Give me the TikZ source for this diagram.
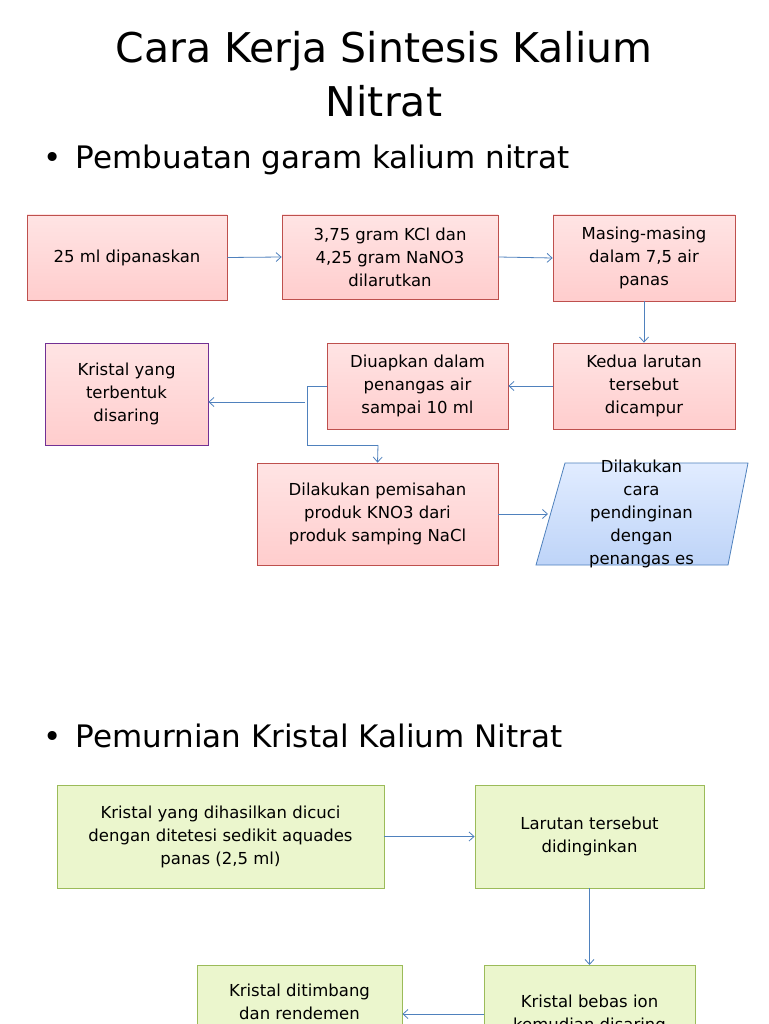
\documentclass[tikz,border=0pt]{standalone}
\usepackage{fontspec}
\setmainfont{DejaVu Sans}
\usetikzlibrary{arrows.meta}
\definecolor{redfill}{RGB}{255,205,205}
\definecolor{redtop}{RGB}{255,228,228}
\definecolor{reddraw}{RGB}{190,80,77}
\definecolor{greenfill}{RGB}{235,246,205}
\definecolor{greendraw}{RGB}{155,187,89}
\definecolor{bluefill}{RGB}{190,212,248}
\definecolor{bluetop}{RGB}{225,236,255}
\definecolor{bluedraw}{RGB}{79,129,189}
\definecolor{arr}{RGB}{79,129,189}
\tikzset{
 boxfont/.style={font=\fontsize{16.5}{23}\selectfont},
 redbox/.style={draw=reddraw,top color=redtop,bottom color=redfill,align=center,boxfont,inner sep=0pt,line width=0.8pt},
 greenbox/.style={draw=greendraw,fill=greenfill,align=center,boxfont,inner sep=0pt,line width=0.8pt},
 conn/.style={draw=arr,line width=0.8pt,-{Straight Barb[length=5pt,width=9pt]}},
 plain/.style={draw=arr,line width=0.8pt}
}
\begin{document}
\begin{tikzpicture}[x=1pt,y=-1pt]
\useasboundingbox[fill=white] (0,0) rectangle (768,1024);
\clip (0,0) rectangle (768,1024);
\node[font=\fontsize{41}{54}\selectfont,align=center] (title) at (384,74) {Cara Kerja Sintesis Kalium\\Nitrat};
\node[font=\fontsize{31}{38}\selectfont,anchor=west] (b1) at (40,160) {•\hspace{14pt}Pembuatan garam kalium nitrat};
\node[font=\fontsize{31}{38}\selectfont,anchor=west] (b2) at (40,736) {•\hspace{14pt}Pemurnian Kristal Kalium Nitrat};
\node[redbox,minimum width=200,minimum height=85] (A) at (127,257.5) {25 ml dipanaskan};
\node[redbox,minimum width=216,minimum height=84] (B) at (390,257) {3,75 gram KCl dan\\4,25 gram NaNO3\\dilarutkan};
\node[redbox,minimum width=182,minimum height=86] (C) at (644,258) {Masing-masing\\dalam 7,5 air\\panas};
\node[redbox,minimum width=182,minimum height=86] (D) at (644,386) {Kedua larutan\\tersebut\\dicampur};
\node[redbox,minimum width=181,minimum height=86] (E) at (417.5,386) {Diuapkan dalam\\penangas air\\sampai 10 ml};
\node[redbox,minimum width=163,minimum height=102,draw=reddraw!60!blue] (F) at (126.5,394) {Kristal yang\\terbentuk\\disaring};
\node[redbox,minimum width=241,minimum height=102] (G) at (377.5,514) {Dilakukan pemisahan\\produk KNO3 dari\\produk samping NaCl};
\path[draw=bluedraw,top color=bluetop,bottom color=bluefill,line width=0.8pt] (536,565) -- (565,463) -- (748,463) -- (728,565) -- cycle;
\node[align=center,boxfont] (H) at (641.5,514) {Dilakukan\\cara\\pendinginan\\dengan\\penangas es};
\coordinate (hw) at (548,514);
\node[greenbox,minimum width=327,minimum height=103] (I) at (220.5,836.5) {Kristal yang dihasilkan dicuci\\dengan ditetesi sedikit aquades\\panas (2,5 ml)};
\node[greenbox,minimum width=229,minimum height=103] (J) at (589.5,836.5) {Larutan tersebut\\didinginkan};
\node[greenbox,minimum width=211,minimum height=120,anchor=north] (K) at (589.5,965) {};
\node[align=center,boxfont,anchor=north] (Kt) at (589.5,991) {Kristal bebas ion\\kemudian disaring};
\node[greenbox,minimum width=205,minimum height=100,anchor=north] (L) at (299.5,965) {Kristal ditimbang\\dan rendemen\\dihitung};
\path[conn] (A.east) -- (B.west);
\path[conn] (B.east) -- (C.west);
\path[conn] (C.south) -- (D.north);
\path[conn] (D.west) -- (E.east);
\coordinate (e1) at (307,386);
\coordinate (e2) at (307,445);
\coordinate (e3) at (378,445);
\coordinate (f1) at (305,402);
\path[plain] (E.west) -- (e1) -- (e2) -- (e3);
\path[conn] (e3) -- (G.north);
\path[conn] (f1) -- (F.east|-f1);
\path[conn] (G.east) -- (hw);
\path[conn] (I.east) -- (J.west);
\path[conn] (J.south) -- (K.north);
\coordinate (k1) at (484,1014);
\path[conn] (k1) -- (L.east|-k1);
\end{tikzpicture}
\end{document}
